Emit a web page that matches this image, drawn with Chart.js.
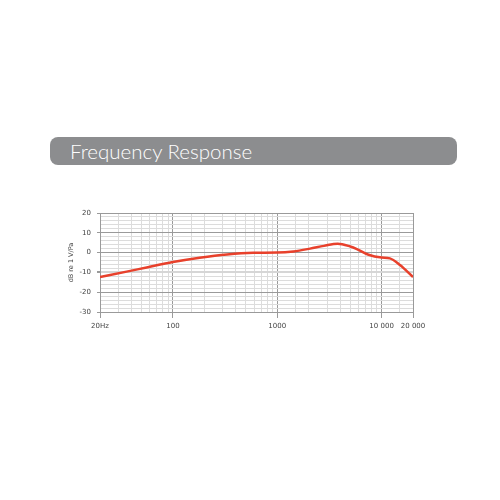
<!DOCTYPE html>
<html>
<head>
<meta charset="utf-8">
<script src="https://cdn.jsdelivr.net/npm/chart.js@4"></script>
<style>
  body { margin: 0; background: #fff; width: 500px; height: 500px; position: relative; overflow: hidden; }
  #banner {
    position: absolute; left: 50px; top: 137px; width: 407px; height: 28px;
    background: #8c8d8f; border-radius: 8px;
    color: #fff; font-family: "Lato", "Open Sans", sans-serif; font-weight: 300; font-size: 20.5px;
    line-height: 28px; padding-left: 20px; box-sizing: border-box;
  }
  #wrap { position: absolute; left: 0; top: 195px; width: 500px; height: 150px; }
</style>
</head>
<body>
<div id="banner">Frequency Response</div>
<div id="wrap"><canvas id="myChart" width="500" height="150"></canvas></div>
<script>
// frequency points (Hz) and level (dB re 1 V/Pa)
const freqs = [20, 36, 56, 100, 180, 330, 590, 1000, 1430, 2060, 2800, 3800, 5000, 5800, 7500, 10000, 12000, 15000, 20000];
const levels = [-12.3, -9.6, -7.5, -4.8, -2.6, -0.9, -0.1, 0, 0.6, 2.0, 3.4, 4.5, 3.1, 1.8, -1.1, -2.5, -2.9, -6.3, -12.3];

const xLabels = { 20: '20Hz', 100: '100', 1000: '1000', 10000: '10 000', 20000: '20 000' };
const yLabels = [20, 10, 0, -10, -20, -30];

const ctx = document.getElementById('myChart');

new Chart(ctx, {
    type: 'line',
    data: {
        datasets: [{
            data: freqs.map((f, i) => ({ x: f, y: levels[i] })),
            borderColor: '#e8412c',
            borderWidth: 2.5,
            pointRadius: 0,
            cubicInterpolationMode: 'monotone',
            fill: false
        }]
    },
    options: {
        responsive: false,
        animation: false,
        layout: { padding: { left: 67, right: 87, top: 18, bottom: 0 } },
        scales: {
            x: {
                type: 'logarithmic',
                min: 20,
                max: 20000,
                afterFit: (scale) => { scale.height = 33; },
                border: { color: '#9a9a9a' },
                grid: {
                    color: (c) => {
                        const v = c.tick && c.tick.value;
                        return [100, 1000, 10000, 20, 20000].includes(v) ? '#9a9a9a' : '#dcdcdc';
                    },
                    tickColor: (c) => {
                        const v = c.tick && c.tick.value;
                        return xLabels[v] ? '#9a9a9a' : 'rgba(0,0,0,0)';
                    },
                    tickLength: 6
                },
                ticks: {
                    autoSkip: false,
                    maxRotation: 0,
                    padding: 4,
                    color: '#444',
                    font: { family: 'DejaVu Sans', size: 7 },
                    callback: (v) => xLabels[v] || ''
                }
            },
            y: {
                min: -30,
                max: 20,
                afterFit: (scale) => { scale.width = 33; },
                border: { color: '#9a9a9a' },
                grid: {
                    color: (c) => {
                        const v = c.tick && c.tick.value;
                        if (v === -10) return '#d6d6d6';
                        return yLabels.includes(v) ? '#9a9a9a' : '#dcdcdc';
                    },
                    lineWidth: (c) => (c.tick && c.tick.value === -10 ? 2 : 1),
                    tickColor: (c) => {
                        const v = c.tick && c.tick.value;
                        return yLabels.includes(v) ? '#9a9a9a' : 'rgba(0,0,0,0)';
                    },
                    tickLength: 3
                },
                ticks: {
                    stepSize: 2,
                    autoSkip: false,
                    padding: 6,
                    color: '#444',
                    font: { family: 'DejaVu Sans', size: 7 },
                    callback: (v) => (yLabels.includes(v) ? String(v) : '')
                },
                title: {
                    display: true,
                    text: 'dB re 1 V/Pa',
                    color: '#444',
                    font: { family: 'DejaVu Sans', size: 6.5 },
                    padding: 0
                }
            }
        },
        plugins: {
            legend: { display: false },
            tooltip: { enabled: false }
        }
    }
});
</script>
</body>
</html>
